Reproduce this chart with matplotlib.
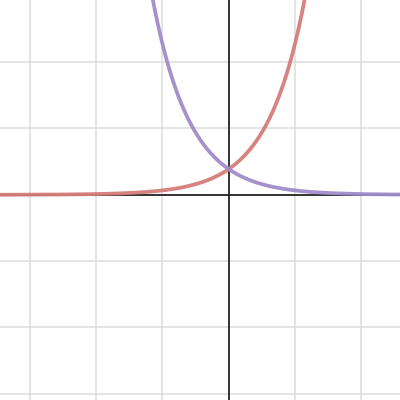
import numpy as np
import matplotlib
matplotlib.use("Agg")
import matplotlib.pyplot as plt

# Curves y = amp * exp(rate * x) in grid units
curve_names = ["red", "purple"]
curve_amp = [0.388, 0.388]
curve_rate = [1.77, -1.77]
curve_colors = ["#d57c79", "#a08cca"]

x_limits = [-3.45, 2.584]
y_limits = [-3.095, 2.938]

fig = plt.figure(figsize=(4, 4), dpi=100)
ax = fig.add_axes([0, 0, 1, 1])
ax.set_xlim(*x_limits)
ax.set_ylim(*y_limits)
ax.axis("off")

for g in range(-4, 4):
    if g != 0:
        ax.axvline(g, color="#dcdcdc", lw=1.1, zorder=1)
        ax.axhline(g, color="#dcdcdc", lw=1.1, zorder=1)
ax.axvline(0, color="#222222", lw=1.3, zorder=2)
ax.axhline(0, color="#222222", lw=1.3, zorder=2)

xs = np.linspace(x_limits[0], x_limits[1], 800)
for a, k, c in zip(curve_amp, curve_rate, curve_colors):
    ax.plot(xs, a * np.exp(k * xs), color=c, alpha=0.95, lw=2.7,
            solid_capstyle="round", zorder=3)

fig.savefig("out.png", dpi=100)
